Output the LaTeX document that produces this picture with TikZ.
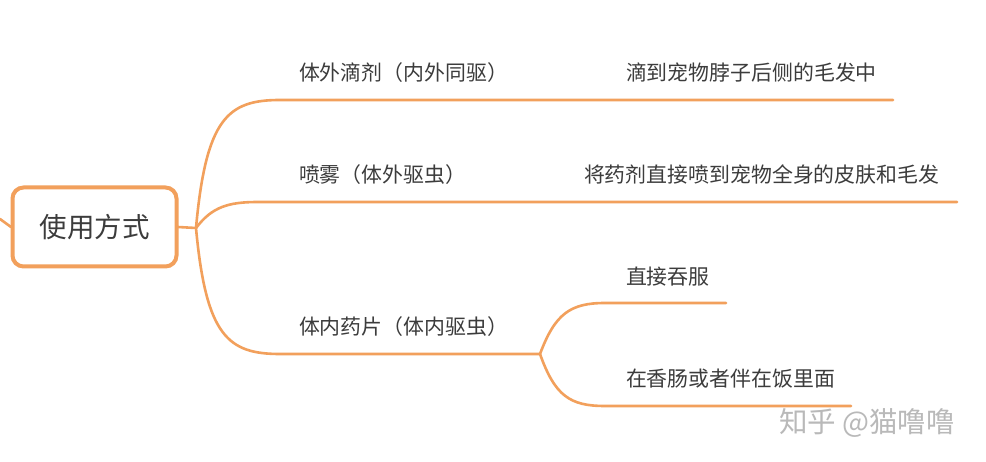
\documentclass[tikz,border=0pt]{standalone}
\usepackage{fontspec}
\setmainfont{Noto Sans CJK SC}
\begin{document}
\begin{tikzpicture}[x=1pt,y=-1pt,
  every node/.style={inner sep=0pt,outer sep=0pt},
  branch/.style={draw=mmorange,line width=2.6pt,line cap=round},
  label/.style={anchor=west,text=mmtext,font=\fontsize{20.9}{24}\selectfont},
  rootbox/.style={draw=mmorange,line width=4pt,rounded corners=11pt,fill=white,
    minimum width=164pt,minimum height=79pt,text=mmtext,font=\fontsize{27.5}{31}\selectfont}]
\definecolor{mmorange}{RGB}{242,160,92}
\definecolor{mmtext}{RGB}{60,60,60}
\definecolor{mmwater}{RGB}{185,185,185}
\useasboundingbox[fill=white] (0,0) rectangle (986,462);

% coordinates
\coordinate (stub) at (0,219);
\coordinate (J) at (196,228);
\coordinate (a1) at (280,100);
\coordinate (a2) at (525,100);
\coordinate (a3) at (893,100);
\coordinate (b1) at (258,202);
\coordinate (b2) at (483,202);
\coordinate (b3) at (957,202);
\coordinate (c1) at (280,354);
\coordinate (c2) at (540,354);
\coordinate (d1) at (605,303);
\coordinate (d2) at (726,303);
\coordinate (e1) at (605,406);
\coordinate (e2) at (851,406);

% connectors
\draw[branch] (stub) .. controls (5,223) .. (11,227);
\draw[branch] (178,227) -- (J);
\draw[branch] (J) .. controls (206,118) and (228,100) .. (a1) -- (a2) -- (a3);
\draw[branch] (J) .. controls (212,207) and (228,202) .. (b1) -- (b2) -- (b3);
\draw[branch] (J) .. controls (206,336) and (228,354) .. (c1) -- (c2);
\draw[branch] (c2) .. controls (555,314) and (570,303) .. (d1) -- (d2);
\draw[branch] (c2) .. controls (555,396) and (570,406) .. (e1) -- (e2);

% root
\node[rootbox] (root) at (94.5,227) {使用方式};

% labels
\node[label] (n1) at (299,73) {体外滴剂（内外同驱）};
\node[label] (n11) at (626,73) {滴到宠物脖子后侧的毛发中};
\node[label] (n2) at (299,175) {喷雾（体外驱虫）};
\node[label] (n21) at (584,175) {将药剂直接喷到宠物全身的皮肤和毛发};
\node[label] (n3) at (299,327) {体内药片（体内驱虫）};
\node[label] (n31) at (626,277) {直接吞服};
\node[label] (n32) at (626,379) {在香肠或者伴在饭里面};

% watermark
\node[anchor=west,text=mmwater,font=\fontsize{28.5}{32}\selectfont] (wm) at (779,423) {知乎 @猫噜噜};
\end{tikzpicture}
\end{document}
